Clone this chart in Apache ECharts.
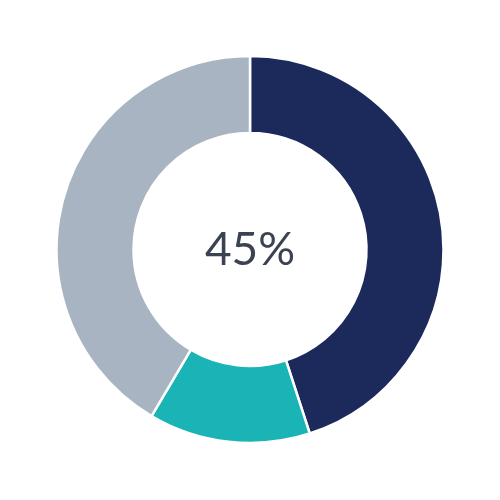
<!DOCTYPE html>
<html>
<head>
<meta charset="utf-8">
<script src="https://cdn.jsdelivr.net/npm/echarts@6/dist/echarts.min.js"></script>
<style>html,body{margin:0;padding:0;background:#fff}#c{width:500px;height:500px}</style>
</head>
<body>
<div id="c"></div>
<script>
const categories = ['A', 'B', 'C'];
const values = [45, 13.5, 41.5];
const colors = ['#1b2a5a', '#1ab4b6', '#a9b4c2'];
const centerLabel = '45%';

const chart = echarts.init(document.getElementById('c'), null, {renderer: 'canvas'});
chart.setOption({
  animation: false,
  title: {
    text: centerLabel,
    left: 'center',
    top: 'middle',
    textStyle: {fontFamily: 'Lato', fontWeight: 400, fontSize: 46, color: '#3b4252'}
  },
  series: [{
    type: 'pie',
    center: [250, 249.5],
    radius: [116.5, 193.5],
    startAngle: 90,
    clockwise: true,
    label: {show: false},
    labelLine: {show: false},
    itemStyle: {borderColor: '#fff', borderWidth: 2.5},
    data: categories.map((c, i) => ({name: c, value: values[i], itemStyle: {color: colors[i]}}))
  }]
});
</script>
</body>
</html>
